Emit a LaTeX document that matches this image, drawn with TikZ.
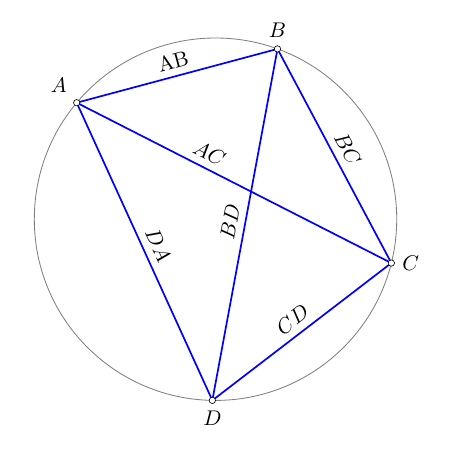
\documentclass[tikz,border=0pt]{standalone}
\usepackage{tikz}

\tikzset{
    pt/.style={circle, draw, fill=white, inner sep=0pt, minimum size=3pt, line width=0.3pt},
    chord/.style={blue, line width=0.8pt},
    lbl/.style={above, sloped, text=black}
}

\begin{document}
\begin{tikzpicture}
    \useasboundingbox (-3.568, -3.821) rectangle (3.882, 3.629);
    \draw[gray, line width=0.4pt] (0, 0) circle (3);

    \coordinate (A) at (140:3);
    \coordinate (B) at (70:3);
    \coordinate (C) at (-14:3);
    \coordinate (D) at (-91:3);

    \draw[chord] (A) -- node[lbl] {AB} (B);
    \draw[chord] (B) -- node[lbl] {$BC$} (C);
    \draw[chord] (C) -- node[lbl] {$CD$} (D);
    \draw[chord] (D) -- node[lbl] {$DA$} (A);
    \draw[chord] (A) -- node[lbl, pos=0.4] {$AC$} (C);
    \draw[chord] (B) -- node[lbl] {$BD$} (D);

    \node[pt, label={above left:$A$}] (a) at (A) {};
    \node[pt, label={above:$B$}] (b) at (B) {};
    \node[pt, label={right:$C$}] (c) at (C) {};
    \node[pt, label={below:$D$}] (d) at (D) {};
\end{tikzpicture}
\end{document}
